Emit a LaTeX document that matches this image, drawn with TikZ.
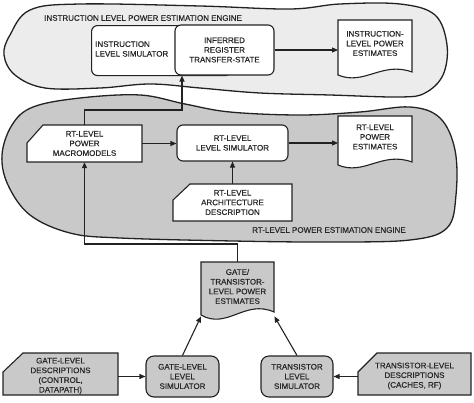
\documentclass[tikz,border=0pt]{standalone}
\usepackage{fontspec}
\setmainfont{Liberation Sans}[FakeBold=0.5, BoldFont={Liberation Sans}]
\usetikzlibrary{arrows.meta}
\definecolor{ln}{HTML}{222222}
\definecolor{txt}{HTML}{282828}
\definecolor{lite}{HTML}{ECECEC}
\definecolor{mid}{HTML}{C9C9C9}
\begin{document}
\begin{tikzpicture}[x=1pt,y=-1pt,
  lbl/.style={font=\fontsize{8}{9.7}\selectfont\bfseries, text=txt, align=center, inner sep=0pt},
  rbox/.style={lbl, draw=ln, line width=1.1pt, rounded corners=6pt, fill=white},
  ghost/.style={inner sep=0pt, draw=none},
  shp/.style={draw=ln, line width=1.1pt},
  blob/.style={draw=ln, line width=1.3pt},
  arr/.style={draw=ln, line width=1.1pt, -{Triangle[length=6pt,width=5pt]}},
  ]
\useasboundingbox (0,0) rectangle (474,402);

% blobs
\path[blob, fill=lite] plot[smooth cycle, tension=0.6] coordinates {
  (10,35) (30,10) (80,4) (200,6) (290,9) (340,4) (400,4) (435,15) (447,45)
  (443,75) (425,93) (400,97) (330,95) (260,93) (200,88) (150,84) (100,88)
  (45,88) (15,75) (4,55)};
\path[blob, fill=mid] plot[smooth cycle, tension=0.6] coordinates {
  (33,107) (80,98) (140,95) (185,104) (230,112) (300,115) (360,112) (410,107)
  (440,118) (455,150) (456,195) (447,228) (410,240) (330,242) (233,241)
  (120,238) (70,233) (30,215) (8,185) (2,155) (12,125)};

\node[lbl, anchor=west] (t1) at (44,18) {INSTRUCTION LEVEL POWER ESTIMATION ENGINE};
\node[lbl, anchor=west] (t2) at (252,230) {RT-LEVEL POWER ESTIMATION ENGINE};

% instruction level
\node[rbox, minimum width=140, minimum height=50, anchor=north west] (ils) at (91,25) {};
\node[lbl, align=left, anchor=west] (ilst) at (95,49) {INSTRUCTION\\LEVEL SIMULATOR};
\node[rbox, minimum width=99, minimum height=50] (irt) at (224.5,50) {INFERRED\\REGISTER\\TRANSFER-STATE};
\path[shp, fill=white] (338,20) -- (412,20) -- (412,72) .. controls (382,61) and (364,86) .. (338,75) -- cycle;
\node[ghost, minimum width=74, minimum height=56, anchor=north west] (ild) at (338,20) {};
\node[lbl] (ildt) at (375,43.5) {INSTRUCTION-\\LEVEL POWER\\ESTIMATES};

% RT level
\path[shp, fill=white] (27,143) -- (43,125) -- (142,125) -- (142,162) -- (27,162) -- cycle;
\node[lbl, minimum width=115, minimum height=37] (mac) at (84.5,143.5) {RT-LEVEL\\POWER\\MACROMODELS};
\node[rbox, minimum width=111, minimum height=36] (rsim) at (232.5,143) {RT-LEVEL\\LEVEL SIMULATOR};
\path[shp, fill=white] (338,116) -- (412,116) -- (412,162) .. controls (382,151) and (364,176) .. (338,165) -- cycle;
\node[ghost, minimum width=74, minimum height=50, anchor=north west] (rdoc) at (338,116) {};
\node[lbl] (rdoct) at (375,137) {RT-LEVEL\\POWER\\ESTIMATES};
\path[shp, fill=white] (173,200) -- (190,184) -- (292,184) -- (292,221) -- (173,221) -- cycle;
\node[lbl, minimum width=119, minimum height=37] (arch) at (232.5,202.5) {RT-LEVEL\\ARCHITECTURE\\DESCRIPTION};

% gate / transistor
\path[shp, fill=mid] (201,262) -- (274,262) -- (274,312) .. controls (245,299) and (227,330) .. (201,315) -- cycle;
\node[ghost, minimum width=73, minimum height=54, anchor=north west] (gtdoc) at (201,262) {};
\node[lbl] (gtdoct) at (237.5,286.5) {GATE/\\TRANSISTOR-\\LEVEL POWER\\ESTIMATES};

\path[shp, fill=mid] (3,372) -- (23,353) -- (118,353) -- (118,395) -- (3,395) -- cycle;
\node[lbl, minimum width=115, minimum height=42] (gdesc) at (60.5,376) {GATE-LEVEL\\DESCRIPTIONS\\(CONTROL,\\DATAPATH)};
\node[rbox, fill=mid, rounded corners=8pt, minimum width=73, minimum height=41] (gsim) at (182.5,376.5) {GATE-LEVEL\\LEVEL\\SIMULATOR};
\node[rbox, fill=mid, rounded corners=8pt, minimum width=72, minimum height=41] (tsim) at (297,376.5) {TRANSISTOR\\LEVEL\\SIMULATOR};
\path[shp, fill=mid] (358,372) -- (377,353) -- (471,353) -- (471,395) -- (358,395) -- cycle;
\node[lbl, minimum width=113, minimum height=42] (tdesc) at (414.5,376) {TRANSISTOR-LEVEL\\DESCRIPTIONS\\(CACHES, RF)};

% connectors
\coordinate (j1) at (182,110);
\coordinate (j2) at (84.5,244);
\draw[arr] (irt.east) -- (irt.east -| ild.west);
\draw[arr] (mac.north) |- (j1) -- (j1 |- irt.south);
\draw[arr] (mac.east) -- (mac.east -| rsim.west);
\draw[arr] (rsim.east) -- (rsim.east -| rdoc.west);
\draw[arr] (arch.north) -- (arch.north |- rsim.south);
\draw[arr] (gtdoc.north) |- (j2) -- (mac.south);
\draw[arr] (gsim.west -| gdesc.east) -- (gsim.west);
\draw[arr] (tsim.east -| tdesc.west) -- (tsim.east);
\draw[arr] (gsim.north) -- (gtdoc.south west);
\draw[arr] (tsim.north) -- (gtdoc.south east);
\end{tikzpicture}
\end{document}
